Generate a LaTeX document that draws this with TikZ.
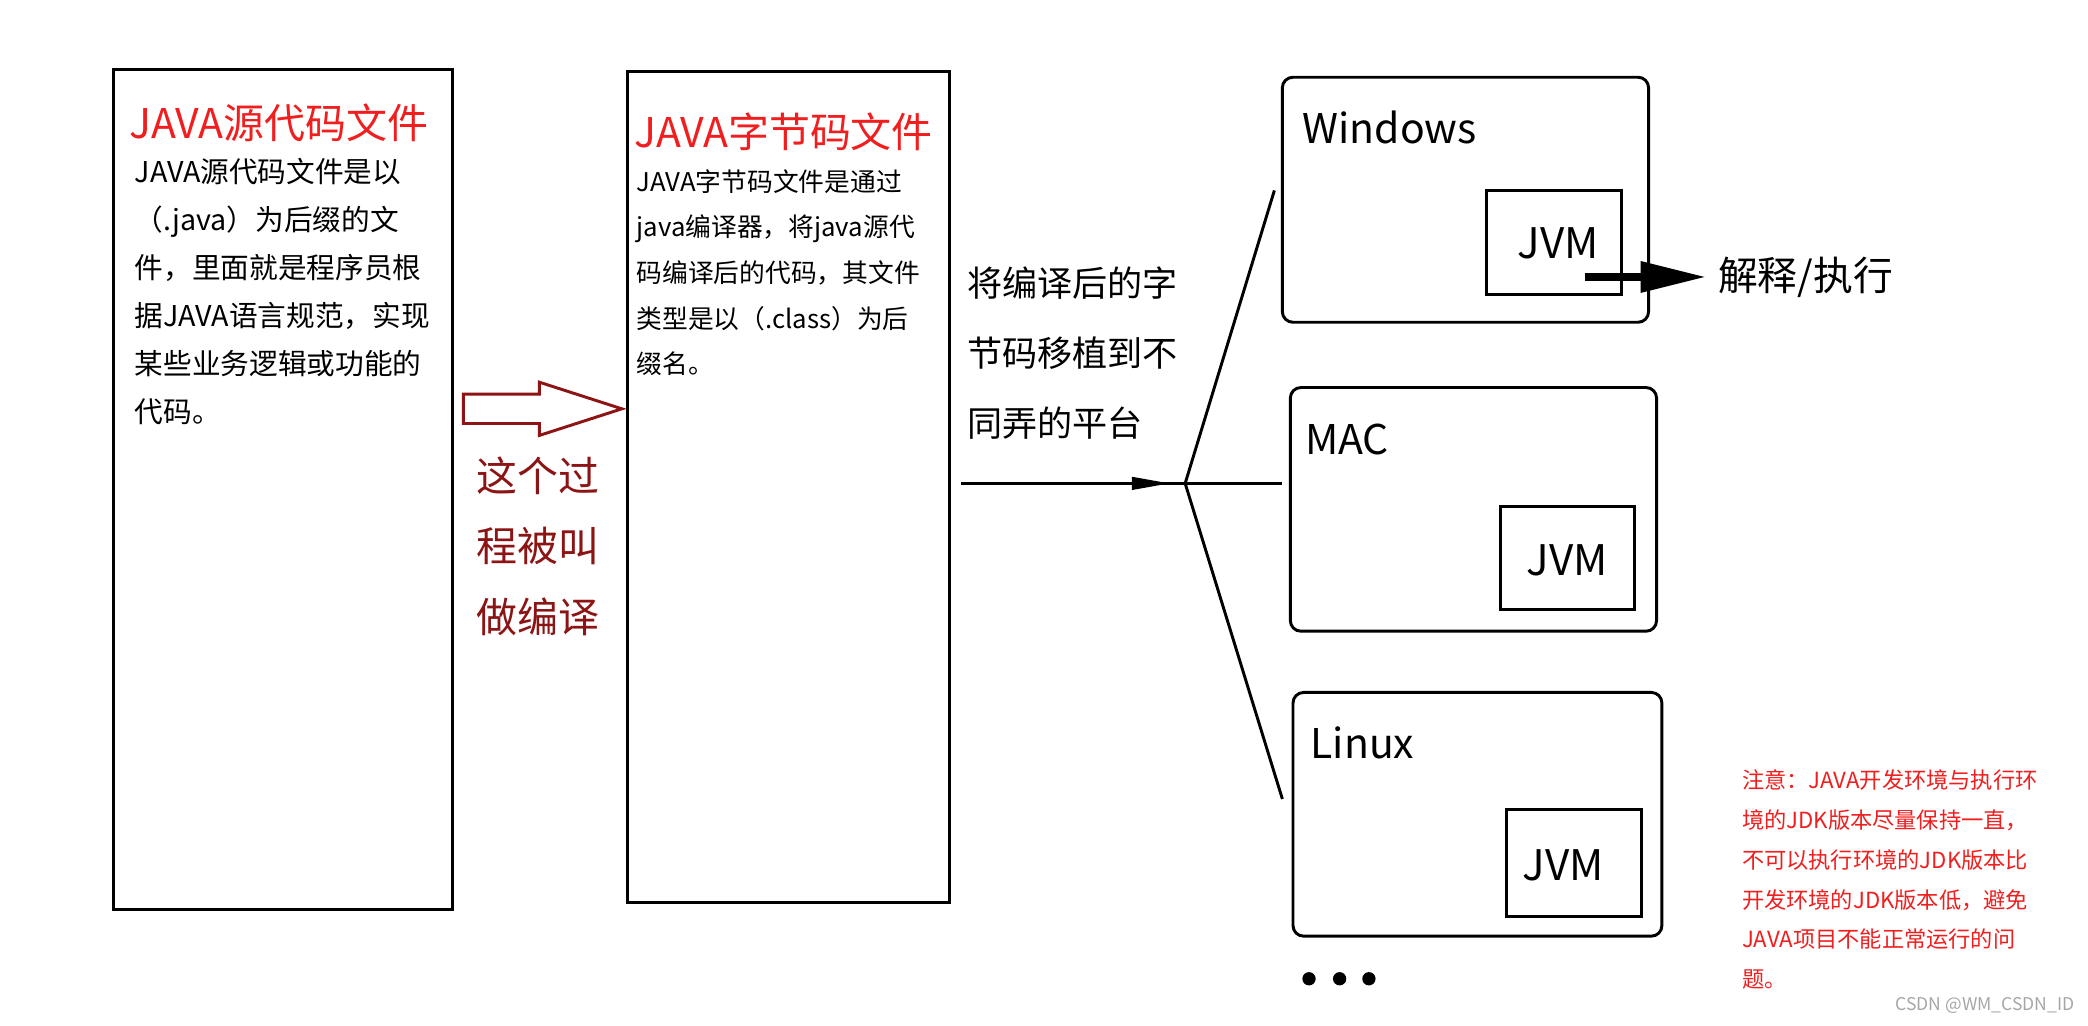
\documentclass[tikz,border=0pt]{standalone}
\usepackage{fontspec}
\setmainfont{Noto Sans CJK SC}
\usetikzlibrary{positioning}
\definecolor{darkred}{RGB}{140,20,20}
\definecolor{notered}{RGB}{240,30,30}

\begin{document}
\begin{tikzpicture}[x=1.138pt,y=-1.138pt]
\tikzstyle{every node}+=[inner sep=0pt]
\tikzset{
  filebox/.style={draw=black,line width=2.5pt},
  osbox/.style={draw=black,line width=2.5pt,rounded corners=9pt},
  jvmbox/.style={draw=black,line width=2.5pt},
  body/.style={anchor=north west,align=left,font=\fontsize{24.5pt}{41pt}\selectfont},
  title/.style={anchor=west,text=notered,font=\fontsize{35pt}{38pt}\selectfont},
  big/.style={anchor=north west,align=left,font=\fontsize{30pt}{60pt}\selectfont},
  jvm/.style={font=\fontsize{36pt}{38pt}\selectfont},
  osname/.style={anchor=west,font=\fontsize{35pt}{38pt}\selectfont}
}
\useasboundingbox (0,0) rectangle (1568,770);
% source file
\draw [filebox] (85,52) rectangle (340,683);
\node [title] (srcT) at (97,92) {JAVA源代码文件};
\node [body] (srcB) at (101,119) {JAVA源代码文件是以\\（.java）为后缀的文\\件，里面就是程序员根\\据JAVA语言规范，实现\\某些业务逻辑或功能的\\代码。};
% byte code file
\draw [filebox] (471,54) rectangle (713,678);
\node [title] (clsT) at (476,99) {JAVA字节码文件};
\node [body,font=\fontsize{22pt}{39pt}\selectfont] (clsB) at (478,127) {JAVA字节码文件是通过\\java编译器，将java源代\\码编译后的代码，其文件\\类型是以（.class）为后\\缀名。};
% compile arrow
\draw [draw=darkred,line width=2.5pt,fill=white] (348,296) -- (405,296) -- (405,287) -- (467,307) -- (405,327) -- (405,318) -- (348,318) -- cycle;
\node [big,text=darkred,font=\fontsize{35pt}{60pt}\selectfont] (cmp) at (358,343) {这个过\\程被叫\\做编译};
\node [big] (move) at (726,200) {将编译后的字\\节码移植到不\\同弄的平台};
% platforms
\draw [osbox] (963,58) rectangle (1238,242);
\node [osname] (win) at (978,96) {Windows};
\node [jvmbox,minimum width=101pt*1.138,minimum height=78pt*1.138] (jvm1) at (1167,182) {};
\node [jvm] at (1170,183) {JVM};
\draw [osbox] (969,291) rectangle (1244,474);
\node [osname] (mac) at (980,330) {MAC};
\node [jvmbox,minimum width=101pt*1.138,minimum height=77pt*1.138] (jvm2) at (1177,419) {};
\node [jvm] at (1177,421) {JVM};
\draw [osbox] (971,520) rectangle (1248,703);
\node [osname] (lin) at (984,558) {Linux};
\node [jvmbox,minimum width=101pt*1.138,minimum height=80pt*1.138] (jvm3) at (1182,648) {};
\node [jvm] at (1174,650) {JVM};
% connectors
\coordinate (start) at (722,363);
\coordinate (hub) at (890,363);
\coordinate (toWin) at (957,143);
\coordinate (toMac) at (963,363);
\coordinate (toLin) at (963,600);
\draw [line width=2pt] (start) -- (hub);
\fill [black] (878,363) -- (850,358) -- (850,368) -- cycle;
\draw [line width=2.5pt] (hub) -- (toWin);
\draw [line width=2pt] (hub) -- (toMac);
\draw [line width=2.5pt] (hub) -- (toLin);
% execute
\node [anchor=west,font=\fontsize{34pt}{38pt}\selectfont] (exec) at (1290,208) {解释/执行};
\coordinate (execS) at (1190,208);
\draw [line width=7pt] (execS) -- (1240,208);
\fill [black] (1280,208) -- (1232,196) -- (1232,220) -- cycle;
% more
\foreach \x in {983,1006,1028} \fill (\x,735) circle (5);
% note
\node [anchor=north west,align=left,text=notered,font=\fontsize{19pt}{34pt}\selectfont] (note) at (1308,578) {注意：JAVA开发环境与执行环\\境的JDK版本尽量保持一直，\\不可以执行环境的JDK版本比\\开发环境的JDK版本低，避免\\JAVA项目不能正常运行的问\\题。};
\node [anchor=east,text=gray!70,font=\fontsize{15pt}{17pt}\selectfont] (mark) at (1558,755) {CSDN @WM\_CSDN\_ID};
\end{tikzpicture}
\end{document}
